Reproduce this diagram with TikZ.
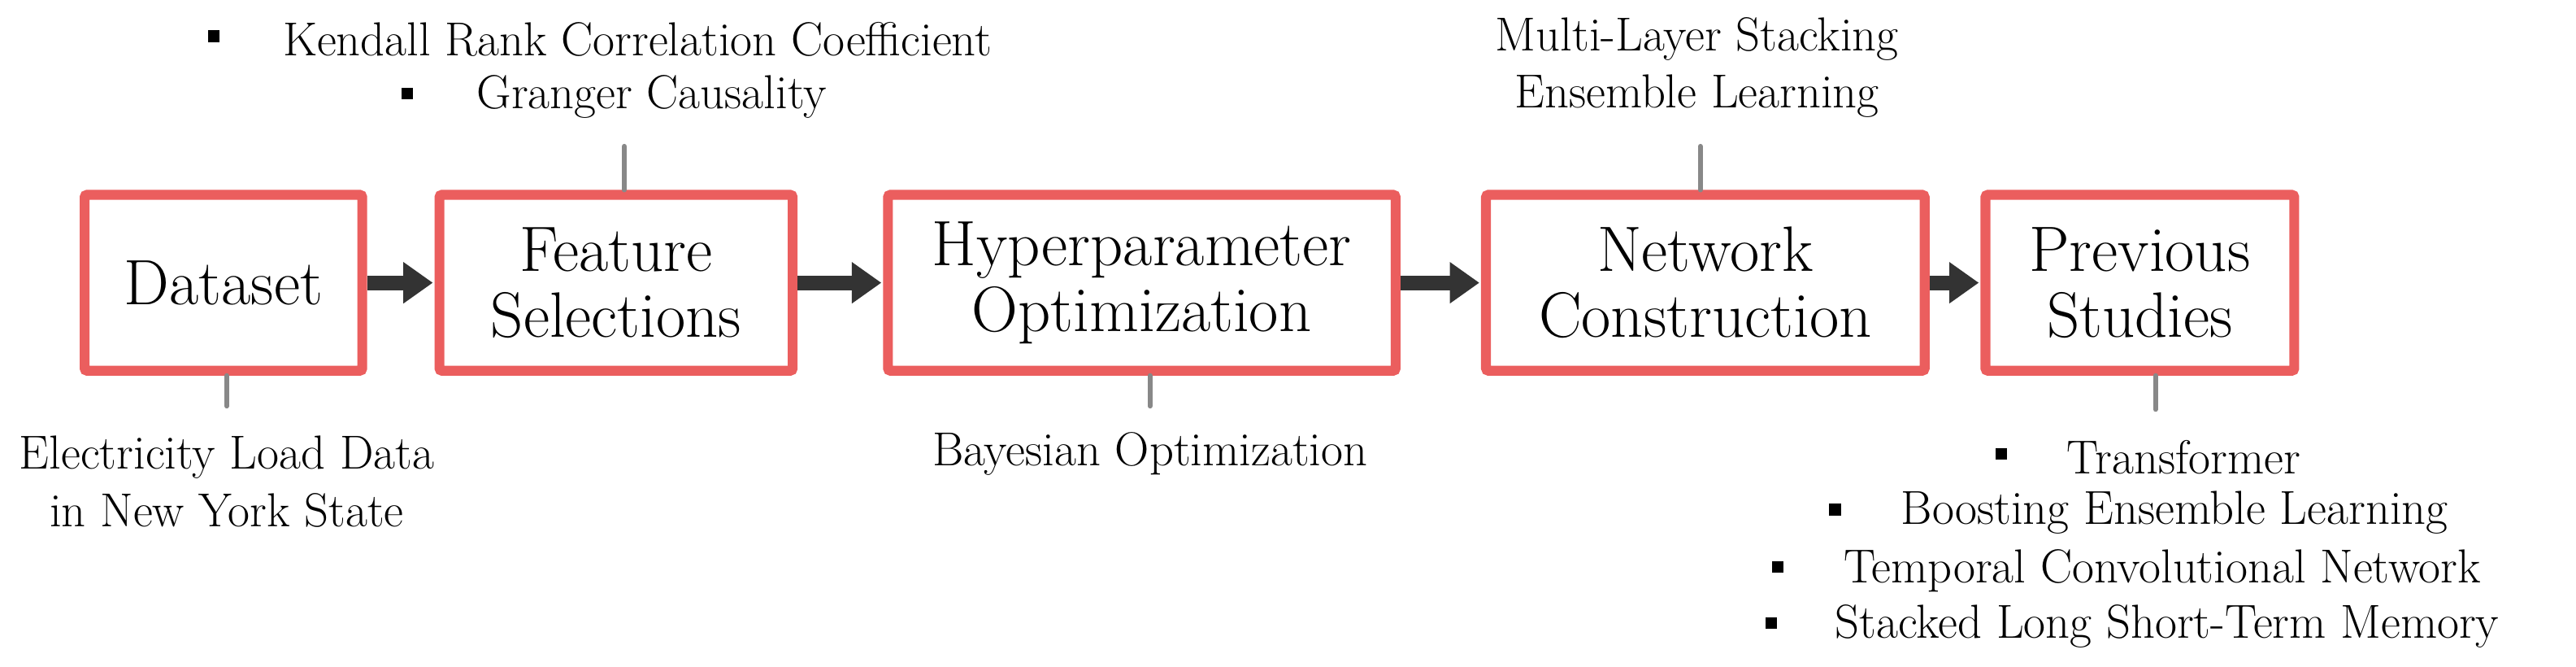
\documentclass[tikz,border=0pt]{standalone}
\usetikzlibrary{arrows.meta}
\definecolor{boxred}{HTML}{EB5E5E}
\definecolor{arrowgray}{HTML}{333333}
\definecolor{tickgray}{HTML}{888888}
\begin{document}
\begin{tikzpicture}[x=1pt,y=-1pt,
  stage/.style={draw=boxred,line width=6pt,rounded corners=1.5pt,align=center,inner sep=0pt,
    font=\fontsize{39}{40}\selectfont,anchor=north west},
  flow/.style={draw=arrowgray,line width=9pt,-{Triangle[length=18pt,width=24pt]},shorten >=1pt},
  tick/.style={draw=tickgray,line width=3pt,line cap=round},
  note/.style={font=\fontsize{29}{35}\selectfont,align=center,inner sep=0pt},
  item/.style={font=\fontsize{29}{30}\selectfont,anchor=west,inner sep=0pt},
  bul/.style={fill=black,minimum size=7pt,inner sep=0pt}]
\useasboundingbox (0,0) rectangle (1568,405.3);
\node[stage,minimum width=169pt,minimum height=107pt] (d) at (48.5,115.5) {Dataset};
\node[stage,minimum width=215pt,minimum height=107pt] (f) at (264.5,115.5) {Feature\\Selections};
\node[stage,minimum width=309pt,minimum height=107pt] (h) at (537.5,115.5) {Hyperparameter\\Optimization};
\node[stage,minimum width=267pt,minimum height=107pt] (n) at (901.5,115.5) {Network\\Construction};
\node[stage,minimum width=188pt,minimum height=107pt] (p) at (1205.5,115.5) {Previous\\Studies};
\draw[flow] (d.east) -- (f.west);
\draw[flow] (f.east) -- (h.west);
\draw[flow] (h.east) -- (n.west);
\draw[flow] (n.east) -- (p.west);
% ticks
\coordinate (ft) at (380,89); \draw[tick] (ft) -- (f.north -| ft);
\coordinate (nt) at (1035,89); \draw[tick] (nt) -- (n.north -| nt);
\coordinate (dt) at (138,247); \draw[tick] (d.south -| dt) -- (dt);
\coordinate (ht) at (700,247); \draw[tick] (h.south -| ht) -- (ht);
\coordinate (pt) at (1312,249); \draw[tick] (p.south -| pt) -- (pt);
% notes
\node[bul] (b1) at (130,22) {}; \node[item] (t1) at (172,24) {Kendall Rank Correlation Coefficient};
\node[bul] (b2) at (248,57) {}; \node[item] (t2) at (290,59) {Granger Causality};
\node[note] (nn) at (1033,41) {Multi-Layer Stacking\\Ensemble Learning};
\node[note] (dn) at (138,293) {Electricity Load Data\\in New York State};
\node[note] (hn) at (700,276) {Bayesian Optimization};
\node[bul] (b3) at (1218,276) {}; \node[item] (t3) at (1258,278) {Transformer};
\node[bul] (b4) at (1117,310) {}; \node[item] (t4) at (1157,312) {Boosting Ensemble Learning};
\node[bul] (b5) at (1082,345) {}; \node[item] (t5) at (1122,347) {Temporal Convolutional Network};
\node[bul] (b6) at (1078,379) {}; \node[item] (t6) at (1117,381) {Stacked Long Short-Term Memory};
\end{tikzpicture}
\end{document}
